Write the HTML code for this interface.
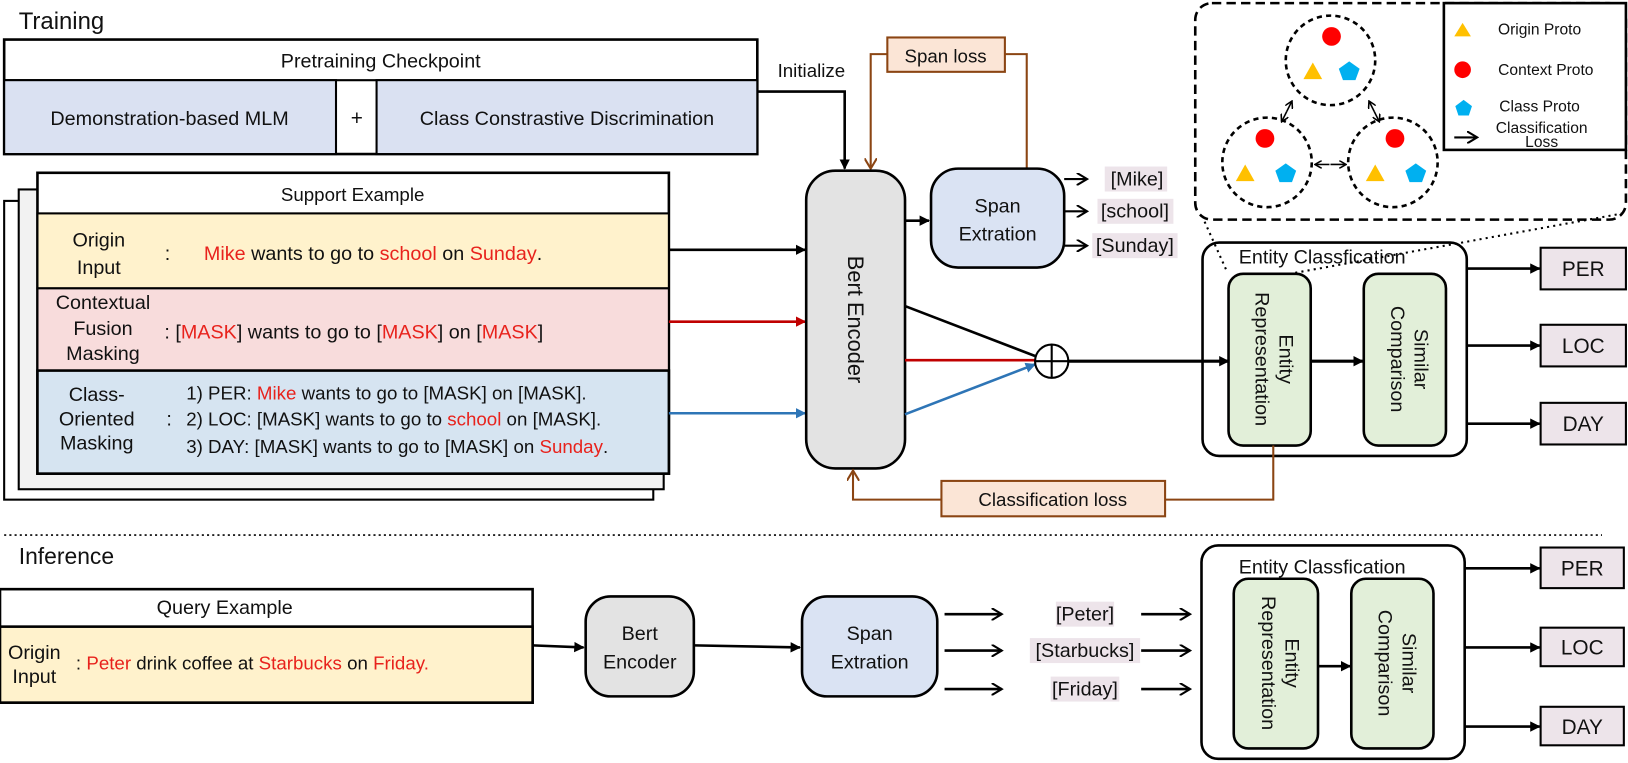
<!DOCTYPE html>
<html><head><meta charset="utf-8"><style>
html,body{margin:0;padding:0;background:#fff;}
svg{display:block;}
text{font-family:"Liberation Sans",sans-serif;fill:#111;}
.r{fill:#e8221c;}
</style></head><body>
<svg width="1628" height="763" viewBox="0 0 1565 733" preserveAspectRatio="none" xmlns="http://www.w3.org/2000/svg">
<defs>
<marker id="ab" markerWidth="10" markerHeight="10" refX="9" refY="5" orient="auto" markerUnits="userSpaceOnUse"><path d="M0,0 L10,5 L0,10 z" fill="#000"/></marker>
<marker id="ar" markerWidth="10" markerHeight="10" refX="9" refY="5" orient="auto" markerUnits="userSpaceOnUse"><path d="M0,0 L10,5 L0,10 z" fill="#c00000"/></marker>
<marker id="abl" markerWidth="10" markerHeight="10" refX="9" refY="5" orient="auto" markerUnits="userSpaceOnUse"><path d="M0,0 L10,5 L0,10 z" fill="#2e75b6"/></marker>
<marker id="ao" markerWidth="12" markerHeight="12" refX="10" refY="6" orient="auto" markerUnits="userSpaceOnUse"><path d="M0,0 L10,6 L0,12" fill="none" stroke="#000" stroke-width="2"/></marker>
<marker id="as" markerWidth="8" markerHeight="8" refX="7" refY="4" orient="auto" markerUnits="userSpaceOnUse"><path d="M0,0 L7,4 L0,8" fill="none" stroke="#000" stroke-width="1.5"/></marker>
<marker id="abr" markerWidth="12" markerHeight="12" refX="10" refY="6" orient="auto" markerUnits="userSpaceOnUse"><path d="M0,0 L10,6 L0,12" fill="none" stroke="#8b4513" stroke-width="2"/></marker>
</defs>

<text x="18" y="28" font-size="23">Training</text>
<rect x="4" y="38" width="724" height="110" fill="#fff" stroke="#000" stroke-width="2.5"/>
<line x1="4" y1="77" x2="728" y2="77" stroke="#000" stroke-width="2"/>
<text x="366" y="65" font-size="19" text-anchor="middle">Pretraining Checkpoint</text>
<rect x="4" y="77" width="319" height="71" fill="#dae1f2" stroke="#000" stroke-width="2"/>
<rect x="362" y="77" width="366" height="71" fill="#dae1f2" stroke="#000" stroke-width="2"/>
<text x="163" y="120" font-size="19" text-anchor="middle">Demonstration-based MLM</text>
<text x="343" y="120" font-size="20" text-anchor="middle">+</text>
<text x="545" y="120" font-size="19" text-anchor="middle">Class Constrastive Discrimination</text>
<text x="780" y="74" font-size="18" text-anchor="middle">Initialize</text>
<polyline points="728,88 812,88 812,162" fill="none" stroke="#000" stroke-width="2.5" marker-end="url(#ab)"/>

<rect x="853" y="36" width="113" height="33" fill="#fbe5d6" stroke="#8b4513" stroke-width="2"/>
<text x="909" y="60" font-size="18" text-anchor="middle">Span loss</text>
<polyline points="853,52 837,52 837,162" fill="none" stroke="#8b4513" stroke-width="2" marker-end="url(#abr)"/>
<polyline points="966,52 987,52 987,163" fill="none" stroke="#8b4513" stroke-width="2"/>

<rect x="4" y="193" width="624" height="287" fill="#fff" stroke="#000" stroke-width="2"/>
<rect x="18" y="182" width="620" height="288" fill="#f2f2f2" stroke="#000" stroke-width="2"/>
<rect x="36" y="166" width="607" height="289" fill="#fff" stroke="#000" stroke-width="2.5"/>
<rect x="36" y="205" width="607" height="72" fill="#fff2cc" stroke="#000" stroke-width="2"/>
<rect x="36" y="277" width="607" height="79" fill="#f8dcdc" stroke="#000" stroke-width="2"/>
<rect x="36" y="356" width="607" height="99" fill="#d6e4f1" stroke="#000" stroke-width="2.5"/>
<text x="339" y="193" font-size="18" text-anchor="middle">Support Example</text>
<text x="95" y="237" font-size="19" text-anchor="middle">Origin</text>
<text x="95" y="263" font-size="19" text-anchor="middle">Input</text>
<text x="161" y="250" font-size="19" text-anchor="middle">:</text>
<text x="196" y="250" font-size="19"><tspan class="r">Mike</tspan> wants to go to <tspan class="r">school</tspan> on <tspan class="r">Sunday</tspan>.</text>
<text x="99" y="297" font-size="19" text-anchor="middle">Contextual</text>
<text x="99" y="322" font-size="19" text-anchor="middle">Fusion</text>
<text x="99" y="346" font-size="19" text-anchor="middle">Masking</text>
<text x="158" y="325" font-size="19">: [<tspan class="r">MASK</tspan>] wants to go to [<tspan class="r">MASK</tspan>] on [<tspan class="r">MASK</tspan>]</text>
<text x="93" y="385" font-size="19" text-anchor="middle">Class-</text>
<text x="93" y="409" font-size="19" text-anchor="middle">Oriented</text>
<text x="93" y="432" font-size="19" text-anchor="middle">Masking</text>
<text x="160" y="409" font-size="19">:</text>
<text x="179" y="384" font-size="18">1) PER: <tspan class="r">Mike</tspan> wants to go to [MASK] on [MASK].</text>
<text x="179" y="409" font-size="18">2) LOC: [MASK] wants to go to <tspan class="r">school</tspan> on [MASK].</text>
<text x="179" y="435" font-size="18">3) DAY: [MASK] wants to go to [MASK] on <tspan class="r">Sunday</tspan>.</text>

<line x1="643" y1="240" x2="774" y2="240" stroke="#000" stroke-width="2.5" marker-end="url(#ab)"/>
<line x1="643" y1="309" x2="774" y2="309" stroke="#c00000" stroke-width="2.5" marker-end="url(#ar)"/>
<line x1="643" y1="397" x2="774" y2="397" stroke="#2e75b6" stroke-width="2.5" marker-end="url(#abl)"/>

<rect x="775" y="164" width="95" height="286" rx="28" fill="#e3e3e3" stroke="#000" stroke-width="2.5"/>
<text x="0" y="0" font-size="21" text-anchor="middle" transform="translate(815,307) rotate(90)">Bert  Encoder</text>

<line x1="870" y1="212" x2="893" y2="212" stroke="#000" stroke-width="2.5" marker-end="url(#ab)"/>
<rect x="895" y="162" width="128" height="95" rx="26" fill="#dae3f3" stroke="#000" stroke-width="2.5"/>
<text x="959" y="204" font-size="19" text-anchor="middle">Span</text>
<text x="959" y="231" font-size="19" text-anchor="middle">Extration</text>
<line x1="1023" y1="172" x2="1045" y2="172" stroke="#000" stroke-width="2" marker-end="url(#ao)"/>
<line x1="1023" y1="203" x2="1045" y2="203" stroke="#000" stroke-width="2" marker-end="url(#ao)"/>
<line x1="1023" y1="236" x2="1045" y2="236" stroke="#000" stroke-width="2" marker-end="url(#ao)"/>
<rect x="1062" y="160" width="60" height="24" fill="#ede4ea"/>
<rect x="1055" y="191" width="73" height="24" fill="#ede4ea"/>
<rect x="1050" y="224" width="82" height="24" fill="#ede4ea"/>
<text x="1093" y="178" font-size="19" text-anchor="middle">[Mike]</text>
<text x="1091" y="209" font-size="19" text-anchor="middle">[school]</text>
<text x="1091" y="242" font-size="19" text-anchor="middle">[Sunday]</text>

<line x1="870" y1="294" x2="995" y2="342" stroke="#000" stroke-width="2.5"/>
<line x1="870" y1="346" x2="995" y2="346" stroke="#c00000" stroke-width="2.5"/>
<line x1="870" y1="398" x2="995" y2="350" stroke="#2e75b6" stroke-width="2.5" marker-end="url(#abl)"/>
<circle cx="1011" cy="347" r="16" fill="#fff" stroke="#000" stroke-width="2"/>
<line x1="995" y1="347" x2="1027" y2="347" stroke="#000" stroke-width="2"/>
<line x1="1011" y1="331" x2="1011" y2="363" stroke="#000" stroke-width="2"/>

<rect x="1156" y="233" width="254" height="205" rx="16" fill="#fff" stroke="#000" stroke-width="2.5"/>
<text x="1271" y="253" font-size="19" text-anchor="middle">Entity Classfication</text>
<rect x="1181" y="263" width="79" height="165" rx="14" fill="#e2efd9" stroke="#000" stroke-width="2.5"/>
<rect x="1311" y="263" width="79" height="165" rx="14" fill="#e2efd9" stroke="#000" stroke-width="2.5"/>
<text font-size="19" text-anchor="middle" transform="translate(1226,345) rotate(90)"><tspan x="0" dy="-4">Entity</tspan><tspan x="0" dy="23">Representation</tspan></text>
<text font-size="19" text-anchor="middle" transform="translate(1356,345) rotate(90)"><tspan x="0" dy="-4">Similar</tspan><tspan x="0" dy="23">Comparison</tspan></text>
<line x1="1027" y1="347" x2="1181" y2="347" stroke="#000" stroke-width="3" marker-end="url(#ab)"/>
<line x1="1260" y1="347" x2="1310" y2="347" stroke="#000" stroke-width="3" marker-end="url(#ab)"/>
<line x1="1410" y1="258" x2="1480" y2="258" stroke="#000" stroke-width="2.5" marker-end="url(#ab)"/>
<line x1="1410" y1="332" x2="1480" y2="332" stroke="#000" stroke-width="2.5" marker-end="url(#ab)"/>
<line x1="1410" y1="407" x2="1480" y2="407" stroke="#000" stroke-width="2.5" marker-end="url(#ab)"/>
<rect x="1481" y="238" width="82" height="40" fill="#ede4ea" stroke="#000" stroke-width="2"/>
<rect x="1481" y="312" width="82" height="40" fill="#ede4ea" stroke="#000" stroke-width="2"/>
<rect x="1481" y="387" width="82" height="40" fill="#ede4ea" stroke="#000" stroke-width="2"/>
<text x="1522" y="265" font-size="20" text-anchor="middle">PER</text>
<text x="1522" y="339" font-size="20" text-anchor="middle">LOC</text>
<text x="1522" y="414" font-size="20" text-anchor="middle">DAY</text>

<rect x="905" y="462" width="215" height="34" fill="#fbe5d6" stroke="#8b4513" stroke-width="2"/>
<text x="1012" y="486" font-size="18" text-anchor="middle">Classification loss</text>
<polyline points="1224,428 1224,480 1120,480" fill="none" stroke="#8b4513" stroke-width="2"/>
<polyline points="905,480 820,480 820,452" fill="none" stroke="#8b4513" stroke-width="2" marker-end="url(#abr)"/>

<rect x="1149" y="3" width="414" height="208" rx="16" fill="none" stroke="#000" stroke-width="2.5" stroke-dasharray="9,5"/>
<line x1="1158" y1="213" x2="1180" y2="262" stroke="#000" stroke-width="2" stroke-dasharray="2,4"/>
<line x1="1560" y1="205" x2="1240" y2="263" stroke="#000" stroke-width="2" stroke-dasharray="2,4"/>
<rect x="1388" y="3" width="175" height="141" fill="#fff" stroke="#000" stroke-width="2.5"/>
<polygon points="1406,22 1398,35 1414,35" fill="#ffc000"/>
<text x="1480" y="33" font-size="15" text-anchor="middle">Origin Proto</text>
<circle cx="1406" cy="67" r="8" fill="#ff0000"/>
<text x="1486" y="72" font-size="15" text-anchor="middle">Context Proto</text>
<polygon points="1407,96 1415,102 1412,111 1402,111 1399,102" fill="#00b0f0"/>
<text x="1480" y="107" font-size="15" text-anchor="middle">Class Proto</text>
<line x1="1398" y1="132" x2="1420" y2="132" stroke="#000" stroke-width="2" marker-end="url(#ao)"/>
<text x="1482" y="128" font-size="15" text-anchor="middle">Classification</text>
<text x="1482" y="141" font-size="15" text-anchor="middle">Loss</text>
<g stroke="#000" stroke-width="2.5" stroke-dasharray="5,4" fill="none">
<circle cx="1279" cy="58" r="43"/>
<circle cx="1218" cy="156" r="43"/>
<circle cx="1339" cy="156" r="43"/>
</g>
<circle cx="1280" cy="35" r="9" fill="#ff0000"/>
<polygon points="1262,60 1253,76 1271,76" fill="#ffc000"/>
<polygon points="1297,59 1307,66 1303,77 1291,77 1287,66" fill="#00b0f0"/>
<circle cx="1216" cy="133" r="9" fill="#ff0000"/>
<polygon points="1197,158 1188,174 1206,174" fill="#ffc000"/>
<polygon points="1236,157 1246,164 1242,175 1230,175 1226,164" fill="#00b0f0"/>
<circle cx="1341" cy="133" r="9" fill="#ff0000"/>
<polygon points="1322,158 1313,174 1331,174" fill="#ffc000"/>
<polygon points="1361,157 1371,164 1367,175 1355,175 1351,164" fill="#00b0f0"/>
<g stroke="#000" stroke-width="1.5" fill="none">
<line x1="1237" y1="107" x2="1242" y2="97" marker-end="url(#as)"/>
<line x1="1237" y1="107" x2="1232" y2="117" marker-end="url(#as)"/>
<line x1="1321" y1="107" x2="1316" y2="97" marker-end="url(#as)"/>
<line x1="1321" y1="107" x2="1326" y2="117" marker-end="url(#as)"/>
<line x1="1278" y1="158" x2="1264" y2="158" marker-end="url(#as)"/>
<line x1="1279" y1="158" x2="1294" y2="158" marker-end="url(#as)"/>
</g>

<line x1="4" y1="514" x2="1540" y2="514" stroke="#000" stroke-width="1.5" stroke-dasharray="2,3"/>
<text x="18" y="542" font-size="22">Inference</text>

<rect x="0" y="566" width="512" height="109" fill="#fff" stroke="#000" stroke-width="2.5"/>
<rect x="0" y="602" width="512" height="73" fill="#fff2cc" stroke="#000" stroke-width="2.5"/>
<text x="216" y="590" font-size="19" text-anchor="middle">Query Example</text>
<text x="33" y="633" font-size="19" text-anchor="middle">Origin</text>
<text x="33" y="656" font-size="19" text-anchor="middle">Input</text>
<text x="73" y="643" font-size="18">: <tspan class="r">Peter</tspan> drink coffee at <tspan class="r">Starbucks</tspan> on <tspan class="r">Friday.</tspan></text>
<line x1="512" y1="620" x2="561" y2="622" stroke="#000" stroke-width="2.5" marker-end="url(#ab)"/>
<rect x="563" y="573" width="104" height="96" rx="24" fill="#e3e3e3" stroke="#000" stroke-width="2.5"/>
<text x="615" y="615" font-size="19" text-anchor="middle">Bert</text>
<text x="615" y="642" font-size="19" text-anchor="middle">Encoder</text>
<line x1="667" y1="620" x2="769" y2="622" stroke="#000" stroke-width="2.5" marker-end="url(#ab)"/>
<rect x="771" y="573" width="130" height="96" rx="24" fill="#dae3f3" stroke="#000" stroke-width="2.5"/>
<text x="836" y="615" font-size="19" text-anchor="middle">Span</text>
<text x="836" y="642" font-size="19" text-anchor="middle">Extration</text>
<g stroke="#000" stroke-width="2.5" fill="none">
<line x1="908" y1="590" x2="963" y2="590" marker-end="url(#ao)"/>
<line x1="908" y1="625" x2="963" y2="625" marker-end="url(#ao)"/>
<line x1="908" y1="662" x2="963" y2="662" marker-end="url(#ao)"/>
<line x1="1097" y1="590" x2="1144" y2="590" marker-end="url(#ao)"/>
<line x1="1097" y1="625" x2="1144" y2="625" marker-end="url(#ao)"/>
<line x1="1097" y1="662" x2="1144" y2="662" marker-end="url(#ao)"/>
</g>
<rect x="1015" y="578" width="56" height="24" fill="#ede4ea"/>
<rect x="990" y="613" width="106" height="24" fill="#ede4ea"/>
<rect x="1010" y="650" width="66" height="24" fill="#ede4ea"/>
<text x="1043" y="596" font-size="19" text-anchor="middle">[Peter]</text>
<text x="1043" y="631" font-size="19" text-anchor="middle">[Starbucks]</text>
<text x="1043" y="668" font-size="19" text-anchor="middle">[Friday]</text>

<rect x="1155" y="524" width="253" height="205" rx="16" fill="#fff" stroke="#000" stroke-width="2.5"/>
<text x="1271" y="551" font-size="19" text-anchor="middle">Entity Classfication</text>
<rect x="1186" y="556" width="81" height="163" rx="14" fill="#e2efd9" stroke="#000" stroke-width="2.5"/>
<rect x="1299" y="556" width="79" height="163" rx="14" fill="#e2efd9" stroke="#000" stroke-width="2.5"/>
<text font-size="19" text-anchor="middle" transform="translate(1232,637) rotate(90)"><tspan x="0" dy="-4">Entity</tspan><tspan x="0" dy="23">Representation</tspan></text>
<text font-size="19" text-anchor="middle" transform="translate(1344,637) rotate(90)"><tspan x="0" dy="-4">Similar</tspan><tspan x="0" dy="23">Comparison</tspan></text>
<line x1="1267" y1="640" x2="1298" y2="640" stroke="#000" stroke-width="2.5" marker-end="url(#ab)"/>
<line x1="1408" y1="546" x2="1480" y2="546" stroke="#000" stroke-width="2.5" marker-end="url(#ab)"/>
<line x1="1408" y1="622" x2="1480" y2="622" stroke="#000" stroke-width="2.5" marker-end="url(#ab)"/>
<line x1="1408" y1="698" x2="1480" y2="698" stroke="#000" stroke-width="2.5" marker-end="url(#ab)"/>
<rect x="1481" y="526" width="80" height="39" fill="#ede4ea" stroke="#000" stroke-width="2"/>
<rect x="1481" y="603" width="80" height="37" fill="#ede4ea" stroke="#000" stroke-width="2"/>
<rect x="1481" y="679" width="80" height="37" fill="#ede4ea" stroke="#000" stroke-width="2"/>
<text x="1521" y="553" font-size="20" text-anchor="middle">PER</text>
<text x="1521" y="629" font-size="20" text-anchor="middle">LOC</text>
<text x="1521" y="705" font-size="20" text-anchor="middle">DAY</text>
</svg>
</body></html>
